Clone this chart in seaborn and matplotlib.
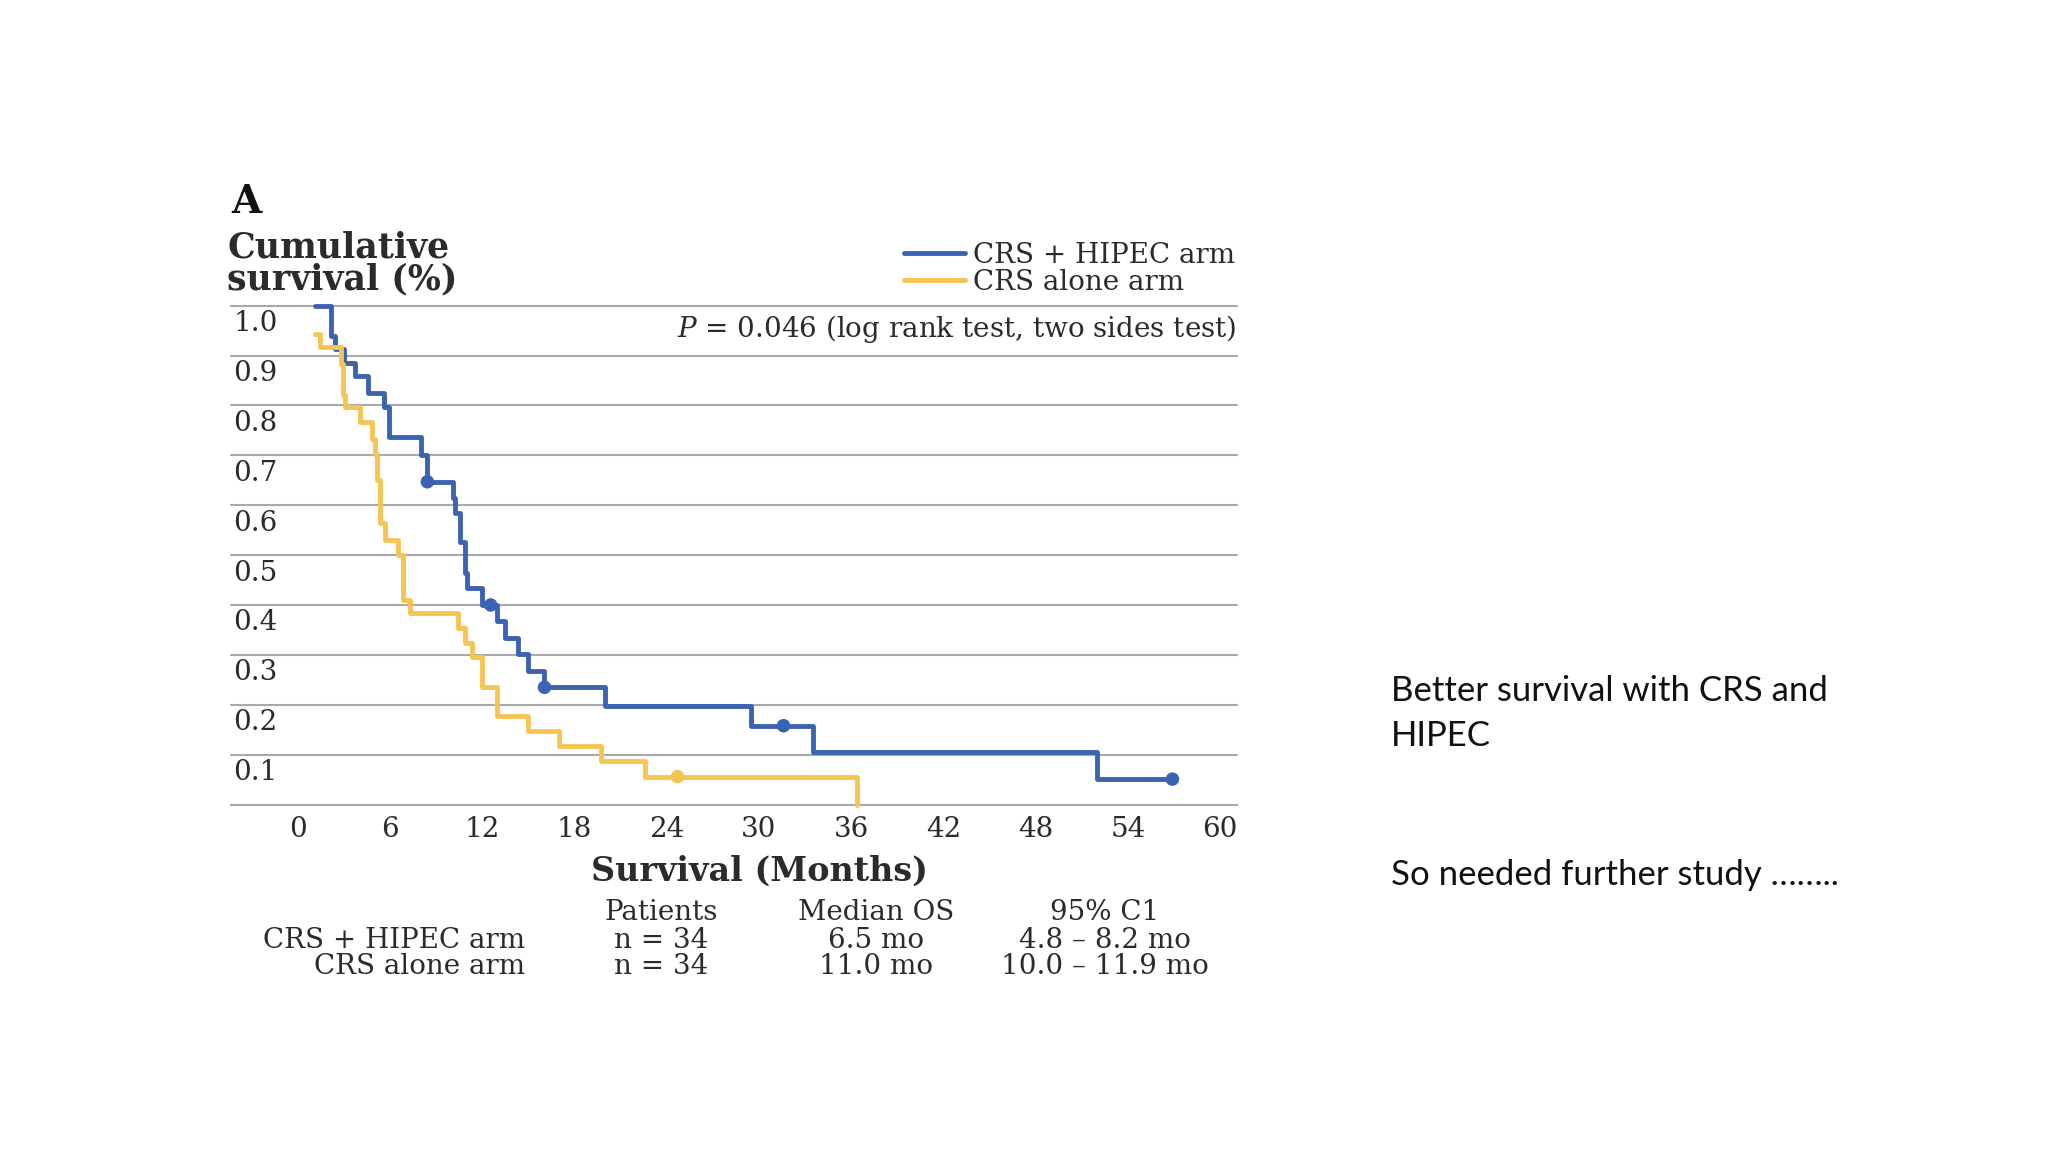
import numpy as np
import pandas as pd
import matplotlib
matplotlib.use("Agg")
import matplotlib.pyplot as plt
import seaborn as sns

# Kaplan-Meier steps (months, cumulative survival)
hipec_t = [1.1, 2.15, 2.43, 2.98, 3.74, 4.54, 5.63, 5.96, 8.0, 8.4, 10.1, 10.25,
           10.55, 10.9, 11.0, 11.96, 12.94, 13.48, 14.3, 15.0, 16.05, 20.0,
           29.5, 33.5, 52.0, 56.9]
hipec_s = [1.0, 0.94, 0.913, 0.885, 0.858, 0.825, 0.797, 0.737, 0.70, 0.647, 0.615, 0.585,
           0.527, 0.464, 0.434, 0.40, 0.368, 0.334, 0.302, 0.268, 0.235, 0.198,
           0.158, 0.105, 0.051, 0.051]
alone_t = [1.1, 1.45, 2.8, 2.95, 3.05, 4.05, 4.81, 5.0, 5.13, 5.35, 5.68, 6.54,
           6.87, 7.3, 10.44, 10.88, 11.35, 11.96, 12.98, 14.95, 17.0, 19.7, 22.6, 36.35]
alone_s = [0.943, 0.917, 0.883, 0.82, 0.797, 0.767, 0.733, 0.703, 0.65, 0.564, 0.531, 0.50,
           0.41, 0.383, 0.353, 0.323, 0.296, 0.235, 0.178, 0.147, 0.118, 0.088, 0.056, 0.0]

# censored observations (dots)
hipec_cens_t = [8.43, 12.55, 16.05, 31.6, 56.9]
hipec_cens_s = [0.647, 0.40, 0.235, 0.158, 0.051]
alone_cens_t = [24.7]
alone_cens_s = [0.056]

arms = ["CRS + HIPEC arm", "CRS alone arm"]
colors = ["#3c62b2", "#f6c453"]
y_ticks = [0.1, 0.2, 0.3, 0.4, 0.5, 0.6, 0.7, 0.8, 0.9, 1.0]
x_ticks = [0, 6, 12, 18, 24, 30, 36, 42, 48, 54, 60]

table_cols = ["Patients", "Median OS", "95% C1"]
patients = ["n = 34", "n = 34"]
median_os = ["6.5 mo", "11.0 mo"]
ci95 = ["4.8 \u2013 8.2 mo", "10.0 \u2013 11.9 mo"]

notes = ["Better survival with CRS and\nHIPEC", "So needed further study \u2026\u2026.."]

curves = pd.concat([
    pd.DataFrame({"t": hipec_t, "s": hipec_s, "arm": arms[0]}),
    pd.DataFrame({"t": alone_t, "s": alone_s, "arm": arms[1]}),
])
cens = pd.concat([
    pd.DataFrame({"t": hipec_cens_t, "s": hipec_cens_s, "arm": arms[0]}),
    pd.DataFrame({"t": alone_cens_t, "s": alone_cens_s, "arm": arms[1]}),
])

sns.set_theme(style="white")
plt.rcParams["font.family"] = ["DejaVu Serif"]
plt.rcParams["mathtext.fontset"] = "dejavuserif"
txt = "#2b2b2b"
grid_c = "#a9a9a9"
fs = 20

fig = plt.figure(figsize=(20.48, 11.52), dpi=100)
ax = fig.add_axes([0.1129, 0.3016, 0.4911, 0.4331])

pal = dict(zip(arms, colors))
sns.lineplot(data=curves, x="t", y="s", hue="arm", palette=pal, estimator=None,
             sort=False, drawstyle="steps-post", lw=3.5, ax=ax, clip_on=False, zorder=3)
sns.scatterplot(data=cens, x="t", y="s", hue="arm", palette=pal, s=95,
                edgecolor="none", legend=False, ax=ax, clip_on=False, zorder=4)

ax.set_xlim(-4.33, 61.1)
ax.set_ylim(0, 1.0)
for v in y_ticks:
    ax.axhline(v, color=grid_c, lw=1.5, zorder=1, clip_on=False)
    ax.text(0.002, v - 0.036, f"{v:.1f}", transform=ax.get_yaxis_transform(),
            ha="left", va="center", fontsize=fs, color=txt)

for side in ["top", "left", "right"]:
    ax.spines[side].set_visible(False)
ax.spines["bottom"].set_color(grid_c)
ax.spines["bottom"].set_linewidth(1.5)
ax.set_yticks([])
ax.set_xticks(x_ticks)
ax.set_xticklabels([str(x) for x in x_ticks])
ax.tick_params(axis="x", direction="in", length=10, width=1.5, color=grid_c,
               labelsize=fs, labelcolor=txt, pad=8)
ax.set_ylabel("")
ax.set_xlabel("Survival (Months)", fontsize=24, fontweight="bold", color=txt, va="center")
ax.xaxis.set_label_coords(0.525, -0.1335)

leg = ax.legend(loc="lower right", bbox_to_anchor=(1.008, 1.0), frameon=False,
                fontsize=fs, handlelength=2.2, handletextpad=0.28, labelspacing=0.0,
                borderpad=0.1, borderaxespad=0.25)
for t in leg.get_texts():
    t.set_color(txt)
for h in leg.get_lines():
    h.set_linewidth(3.5)

ax.text(1.0, 0.953, r"$P$ = 0.046 (log rank test, two sides test)", transform=ax.transAxes,
        ha="right", va="center", fontsize=fs, color=txt)

fig.text(0.1129, 0.8243, "A", fontsize=28, fontweight="bold", ha="left", va="center", color="#111111")
fig.text(0.111, 0.7715, "Cumulative\nsurvival (%)", fontsize=25, fontweight="bold",
         ha="left", va="center", linespacing=0.92, color=txt)

# summary table under the plot
row_y = [0.1837, 0.161]
col_x = [0.3227, 0.4279, 0.5395]
for cx, head in zip(col_x, table_cols):
    fig.text(cx, 0.2075, head, ha="center", va="center", fontsize=fs, color=txt)
for i, arm in enumerate(arms):
    fig.text(0.2564, row_y[i], arm, ha="right", va="center", fontsize=fs, color=txt)
    for cx, col in zip(col_x, [patients, median_os, ci95]):
        fig.text(cx, row_y[i], col[i], ha="center", va="center", fontsize=fs, color=txt)

# slide notes on the right
fig.text(0.6792, 0.3805, notes[0], ha="left", va="center", fontsize=25,
         family=["Lato", "DejaVu Sans"], color="#111111", linespacing=1.5)
fig.text(0.6792, 0.2404, notes[1], ha="left", va="center", fontsize=25,
         family=["Lato", "DejaVu Sans"], color="#111111")

fig.savefig("out.png", dpi=100, facecolor="white")
